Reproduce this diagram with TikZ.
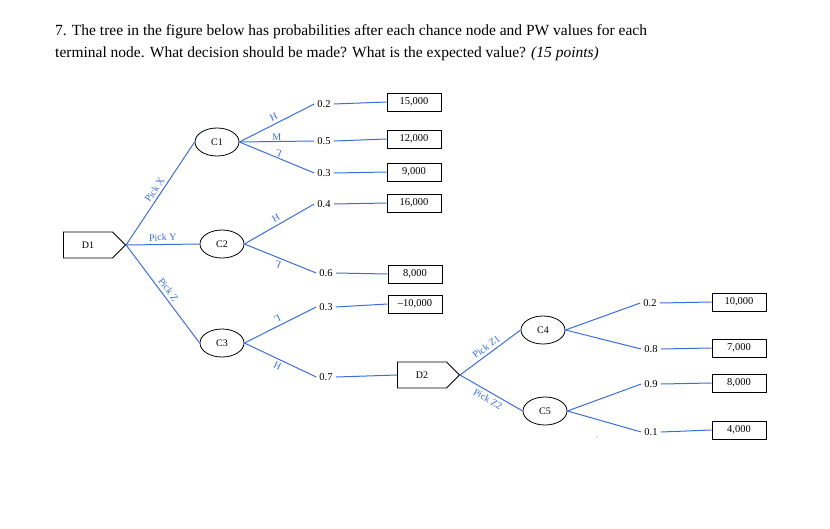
\documentclass[tikz,border=0pt]{standalone}
\usepackage{fontspec}
\setmainfont{Liberation Serif}
\usetikzlibrary{shapes.symbols,shapes.geometric}
\definecolor{ln}{HTML}{3A6FD8}
\begin{document}
\begin{tikzpicture}[x=1pt,y=-1pt,
  ch/.style={draw,line width=0.8pt,ellipse,minimum width=44,minimum height=28,inner sep=0,font=\fontsize{10}{11}\selectfont},
  dec/.style={draw,line width=0.8pt,signal,signal to=east,signal pointer angle=90,minimum width=62,minimum height=26,inner sep=0,font=\fontsize{10}{11}\selectfont,text width=36,align=center},
  val/.style={draw,line width=1pt,minimum width=54,minimum height=18,inner sep=0,font=\fontsize{10.5}{11}\selectfont},
  pr/.style={inner sep=3,font=\fontsize{10.5}{11}\selectfont},
  br/.style={ln,line width=1pt},
  lb/.style={font=\fontsize{10}{11}\selectfont,sloped,inner sep=3}]
\useasboundingbox (0,0) rectangle (830,528);
\node[anchor=north west,align=left,font=\fontsize{15.5}{22}\selectfont,inner sep=0] (title) at (55,24)
 {7. The tree in the figure below has probabilities after each chance node and PW values for each\\
  terminal node. What decision should be made? What is the expected value? \textit{(15 points)}};
\node[dec] (D1) at (88,245) {D1};
\node[ch] (C1) at (217,142) {C1};
\node[ch] (C2) at (222,244) {C2};
\node[ch] (C3) at (222,343) {C3};
\node[dec] (D2) at (422,375) {D2};
\node[ch] (C4) at (543,330) {C4};
\node[ch] (C5) at (545,411) {C5};
\foreach \n/\t/\x/\y in {a/0.2/324/104,b/0.5/324/141,c/0.3/324/173,d/0.4/324/204,e/0.6/326/273,f/0.3/326/307,g/0.7/326/377,h/0.2/650/303,i/0.8/651/349,j/0.9/651/384,k/0.1/651/432}
  \node[pr] (p\n) at (\x,\y) {\t};
\foreach \n/\t/\x/\y in {a/{15,000}/414/102,b/{12,000}/414/139,c/{9,000}/414/172,d/{16,000}/414/203,e/{8,000}/415/274,f/{--10,000}/415/304,h/{10,000}/739/302,i/{7,000}/739/348,j/{8,000}/739/383,k/{4,000}/739/430}
  \node[val] (v\n) at (\x,\y) {\t};
\foreach \n in {a,b,c,d,e,f,h,i,j,k} \draw[br] (p\n.east) -- (v\n.west);
\draw[br] (pg.east) -- (D2.west);
\draw[br] (D1.east) -- node[lb,anchor=south] {Pick X} (C1.west);
\draw[br] (D1.east) -- node[lb,anchor=south] {Pick Y} (C2.west);
\draw[br] (D1.east) -- node[lb,anchor=south] {Pick Z} (C3.west);
\draw[br] (C1.east) -- node[lb,anchor=north,rotate=180] {H} (pa.west);
\draw[br] (C1.east) -- node[lb,anchor=south,inner sep=1] {M} (pb.west);
\draw[br] (C1.east) -- node[lb,anchor=north,rotate=180,inner sep=1] {L} (pc.west);
\draw[br] (C2.east) -- node[lb,anchor=north,rotate=180] {H} (pd.west);
\draw[br] (C2.east) -- node[lb,anchor=south,rotate=180] {L} (pe.west);
\draw[br] (C3.east) -- node[lb,anchor=north,rotate=180] {L} (pf.west);
\draw[br] (C3.east) -- node[lb,anchor=south,rotate=180] {H} (pg.west);
\draw[br] (D2.east) -- node[lb,anchor=south] {Pick Z1} (C4.west);
\draw[br] (D2.east) -- node[lb,anchor=north] {Pick Z2} (C5.west);
\draw[br] (C4.east) -- (ph.west);
\draw[br] (C4.east) -- (pi.west);
\draw[br] (C5.east) -- (pj.west);
\draw[br] (C5.east) -- (pk.west);
\fill[gray] (597,437) circle (0.7);
\end{tikzpicture}
\end{document}
